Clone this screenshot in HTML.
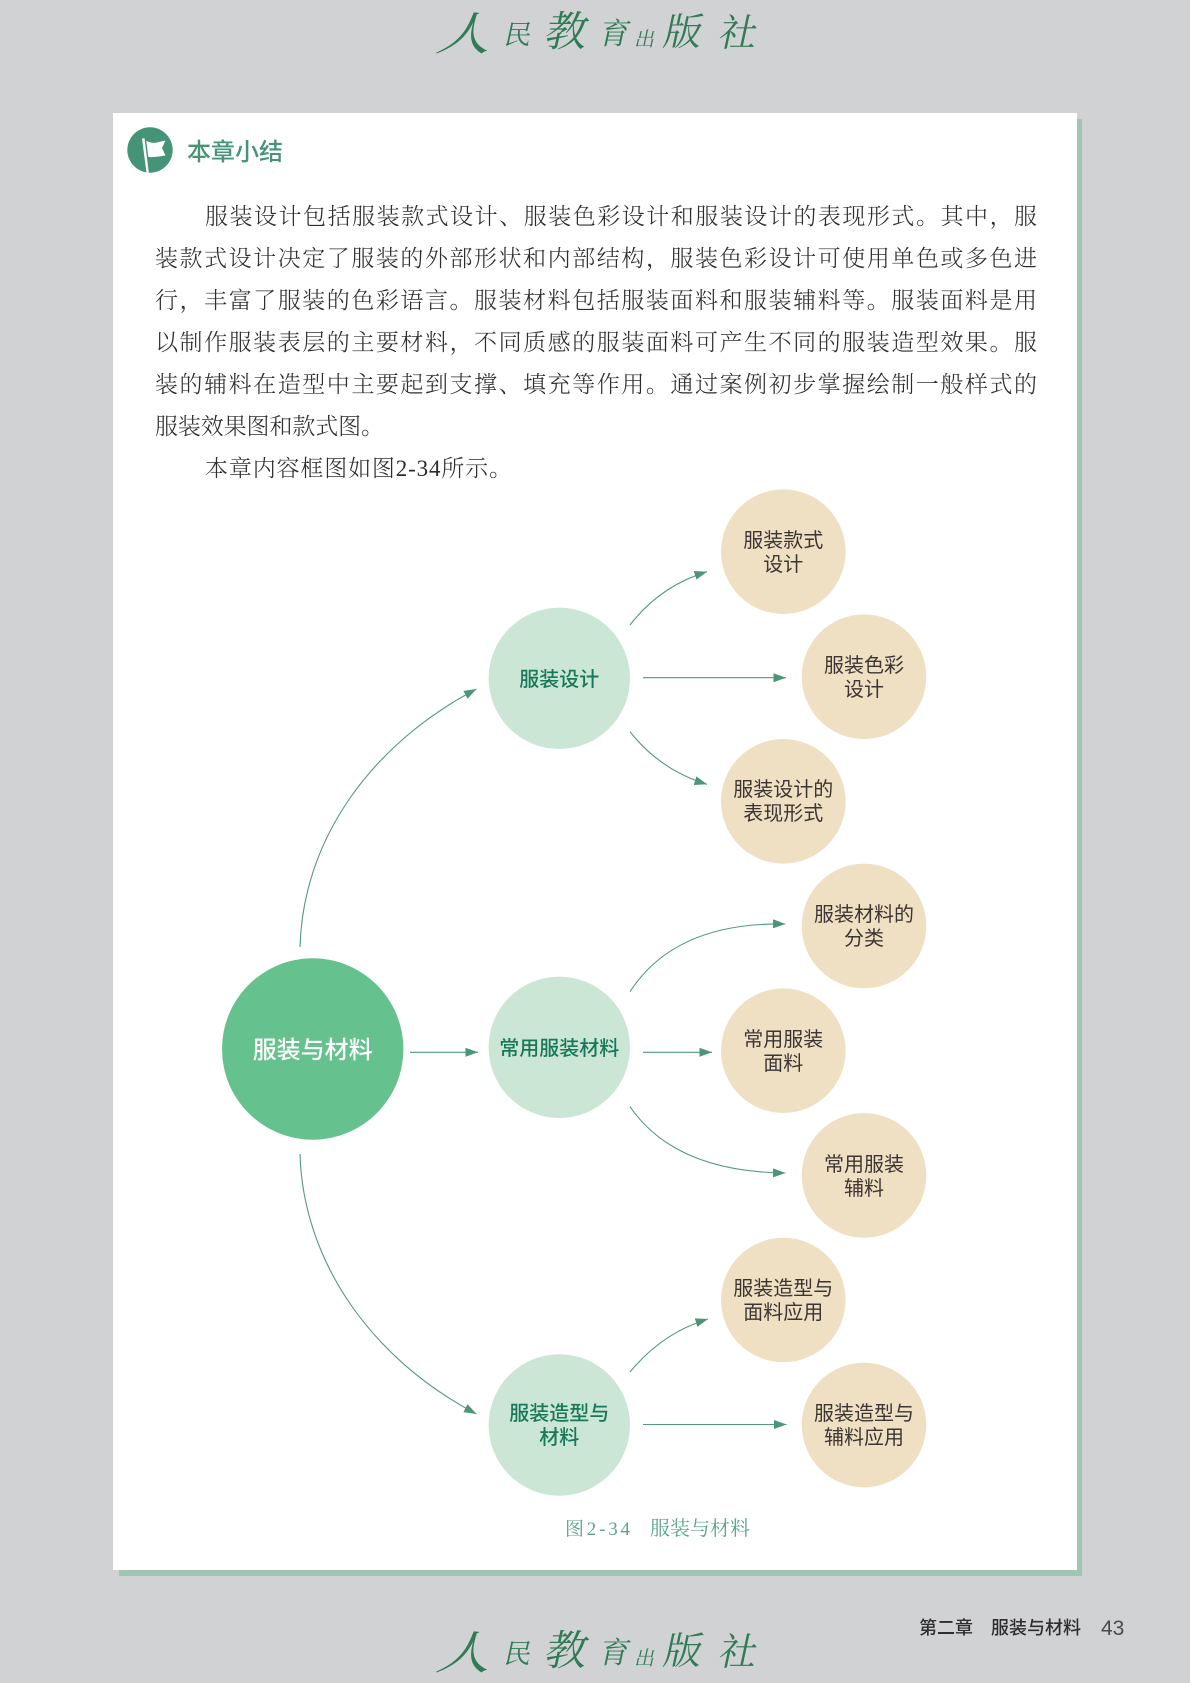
<!DOCTYPE html>
<html lang="zh">
<head>
<meta charset="utf-8">
<style>
html,body{margin:0;padding:0;background:#d1d2d4;}
svg{display:block;}
.b{font-family:"Liberation Serif","Noto Serif CJK SC",serif;font-size:23px;fill:#2f2d2c;font-weight:300;}
.s{font-family:"Liberation Sans","Noto Sans CJK SC",sans-serif;}
.t{font-size:20px;fill:#3d3533;text-anchor:middle;}
.m{font-size:20px;fill:#17785a;text-anchor:middle;font-weight:500;}
.l{font-family:"Noto Serif CJK SC",serif;fill:#2f7b56;font-weight:400;}
.c{fill:none;stroke:#529a7c;stroke-width:1.1;marker-end:url(#a);}
</style>
</head>
<body>
<svg xmlns="http://www.w3.org/2000/svg" width="1190" height="1683" viewBox="0 0 1190 1683">
<defs>
<marker id="a" markerUnits="userSpaceOnUse" markerWidth="13" markerHeight="10" refX="12.5" refY="4.5" orient="auto"><path d="M0 0L12.5 4.5L0 9z" fill="#4b9676"/></marker>
<g id="logo">
<text class="l" transform="translate(435,50) skewX(-22) scale(1.35,1.15)" font-size="40">人</text>
<text class="l" transform="translate(503,44) skewX(-12)" font-size="27">民</text>
<text class="l" transform="translate(543,46) skewX(-12)" font-size="42">教</text>
<text class="l" transform="translate(598,44) skewX(-12)" font-size="30">育</text>
<text class="l" transform="translate(634,46) skewX(-12)" font-size="20">出</text>
<text class="l" transform="translate(662,45) skewX(-12)" font-size="38">版</text>
<text class="l" transform="translate(717,46) skewX(-12)" font-size="38">社</text>
</g>
</defs>
<rect width="1190" height="1683" fill="#d1d2d4"/>
<use href="#logo"/>
<use href="#logo" y="1619"/>

<rect x="119" y="119" width="963" height="1457" fill="#a1c4b4"/>
<rect x="113" y="113" width="964" height="1457" fill="#fff"/>

<circle cx="150" cy="150" r="22.700" fill="#459477"/>
<path d="M142 138.500l2.500-.3 4.300 34.300-2.300.2z" fill="#fff"/>
<path d="M146.300 141c4 1.500 7 2.500 10.500 1.500l8.700-2-3.500 7.500 3.500 7.500c-6 1-12.500 1.800-17.200 1.500z" fill="#fff"/>
<text class="s" x="187" y="160" font-size="24" fill="#459477" font-weight="500">本章小结</text>

<text class="b" x="205" y="224" textLength="832" lengthAdjust="spacing">服装设计包括服装款式设计、服装色彩设计和服装设计的表现形式。其中，服</text>
<text class="b" x="155" y="266" textLength="882" lengthAdjust="spacing">装款式设计决定了服装的外部形状和内部结构，服装色彩设计可使用单色或多色进</text>
<text class="b" x="155" y="308" textLength="882" lengthAdjust="spacing">行，丰富了服装的色彩语言。服装材料包括服装面料和服装辅料等。服装面料是用</text>
<text class="b" x="155" y="350" textLength="882" lengthAdjust="spacing">以制作服装表层的主要材料，不同质感的服装面料可产生不同的服装造型效果。服</text>
<text class="b" x="155" y="392" textLength="882" lengthAdjust="spacing">装的辅料在造型中主要起到支撑、填充等作用。通过案例初步掌握绘制一般样式的</text>
<text class="b" x="155" y="434" textLength="229" lengthAdjust="spacing">服装效果图和款式图。</text>
<text class="b" x="205" y="476" textLength="307" lengthAdjust="spacing">本章内容框图如图2-34所示。</text>

<circle cx="312.700" cy="1049" r="90.700" fill="#65c18d"/>
<circle cx="559.300" cy="678.300" r="70.700" fill="#cce6d5"/>
<circle cx="559.300" cy="1047.300" r="70.700" fill="#cce6d5"/>
<circle cx="559.300" cy="1425" r="70.700" fill="#cce6d5"/>
<g fill="#efe0c4">
<circle cx="783.300" cy="551.700" r="62.300"/>
<circle cx="864" cy="676.700" r="62.300"/>
<circle cx="783.300" cy="801.300" r="62.300"/>
<circle cx="864" cy="926" r="62.300"/>
<circle cx="783.300" cy="1050.700" r="62.300"/>
<circle cx="864" cy="1175.400" r="62.300"/>
<circle cx="783.300" cy="1300" r="62.300"/>
<circle cx="864" cy="1425" r="62.300"/>
</g>

<path class="c" d="M300 947C303 840 370 745 476.500 689"/>
<path class="c" d="M300 1154C303 1260 370 1358 476.500 1414"/>
<path class="c" d="M410 1052.300H478"/>
<path class="c" d="M630 625Q660 586 707 571.700"/>
<path class="c" d="M643 677.700H786"/>
<path class="c" d="M630 731.700Q660 770 707 784.300"/>
<path class="c" d="M630 991.700Q675 922 785.500 924"/>
<path class="c" d="M643 1052.300H712"/>
<path class="c" d="M630 1106.700Q675 1172 785.500 1173"/>
<path class="c" d="M630 1372Q662 1333 708 1319"/>
<path class="c" d="M643 1424.500H786.500"/>

<g class="s">
<text x="312.700" y="1058" font-size="24" fill="#fff" text-anchor="middle" font-weight="500">服装与材料</text>
<text class="m" x="559.300" y="686">服装设计</text>
<text class="m" x="559.300" y="1055">常用服装材料</text>
<text class="m" x="559.300" y="1420">服装造型与</text>
<text class="m" x="559.300" y="1444">材料</text>
<text class="t" x="783.300" y="547">服装款式</text><text class="t" x="783.300" y="571">设计</text>
<text class="t" x="864" y="672">服装色彩</text><text class="t" x="864" y="696">设计</text>
<text class="t" x="783.300" y="796">服装设计的</text><text class="t" x="783.300" y="820">表现形式</text>
<text class="t" x="864" y="921">服装材料的</text><text class="t" x="864" y="945">分类</text>
<text class="t" x="783.300" y="1046">常用服装</text><text class="t" x="783.300" y="1070">面料</text>
<text class="t" x="864" y="1171">常用服装</text><text class="t" x="864" y="1195">辅料</text>
<text class="t" x="783.300" y="1295">服装造型与</text><text class="t" x="783.300" y="1319">面料应用</text>
<text class="t" x="864" y="1420">服装造型与</text><text class="t" x="864" y="1444">辅料应用</text>
</g>

<text x="565" y="1535" font-family="'Liberation Serif','Noto Serif CJK SC',serif" font-size="19" fill="#5aa58a" textLength="65" lengthAdjust="spacing">图2-34</text>
<text x="650" y="1535" font-family="'Liberation Serif','Noto Serif CJK SC',serif" font-size="20" fill="#5aa58a">服装与材料</text>

<text class="s" x="919" y="1634" font-size="18" fill="#2f2d2d" font-weight="500">第二章</text>
<text class="s" x="991" y="1634" font-size="18" fill="#2f2d2d" font-weight="500">服装与材料</text>
<text x="1101" y="1635" font-family="'Liberation Sans',sans-serif" font-size="21" fill="#4a4a4c">43</text>
</svg>
</body>
</html>
